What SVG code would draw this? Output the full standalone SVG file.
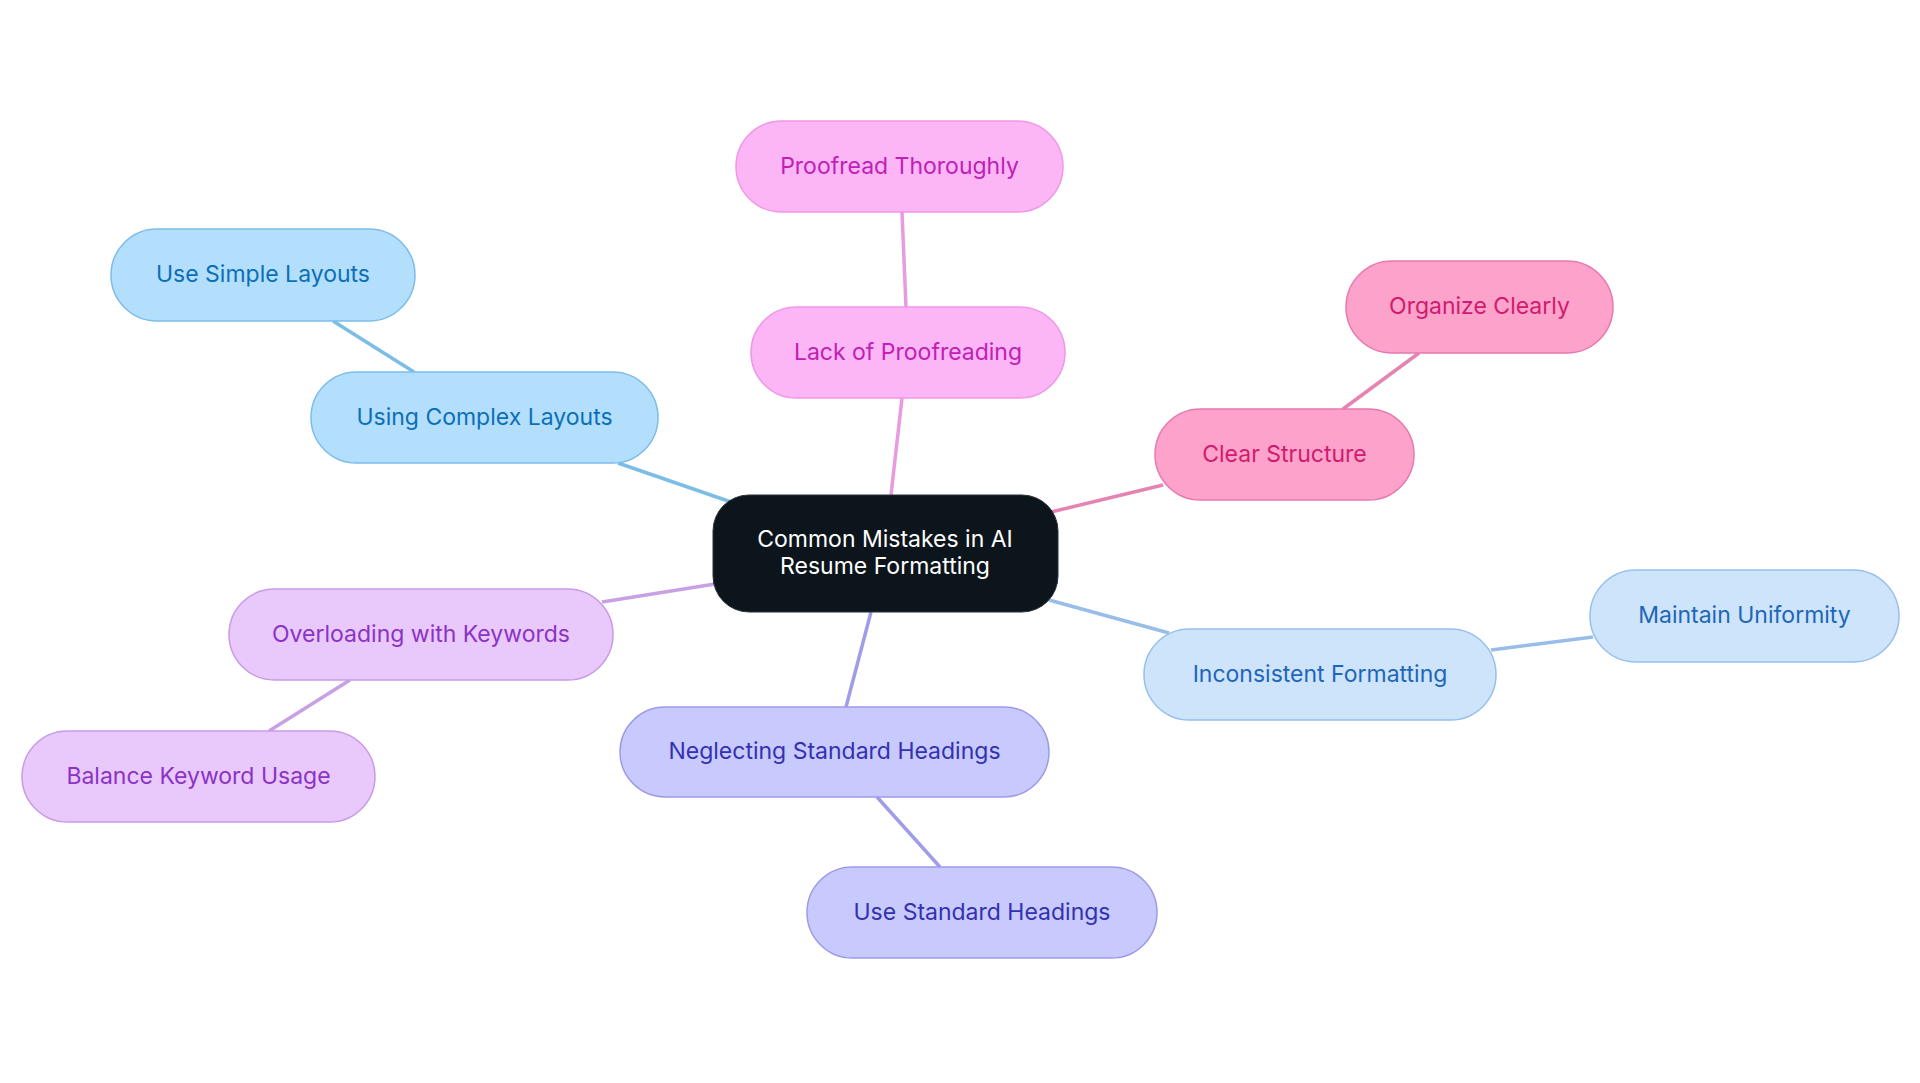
<svg xmlns="http://www.w3.org/2000/svg" width="1920" height="1083" viewBox="0 0 1920 1083">
<style>
text{font-family:Inter,"Noto Sans",sans-serif;font-size:23px;text-anchor:middle;dominant-baseline:central}
.c line{stroke-width:3.5;fill:none}
.b rect{fill:#b3dffc;stroke:#7cbde9;stroke-width:1.5}.b text{fill:#0b6fb8}
.p rect{fill:#fdb6f5;stroke:#f097e6;stroke-width:1.5}.p text{fill:#c020b5}
.r rect{fill:#fda2cb;stroke:#e879ad;stroke-width:1.5}.r text{fill:#d11a6f}
.l rect{fill:#cde4fb;stroke:#97c0ec;stroke-width:1.5}.l text{fill:#1e66b8}
.v rect{fill:#e9c8fb;stroke:#c89ae8;stroke-width:1.5}.v text{fill:#8a33c6}
.i rect{fill:#c8cafd;stroke:#9c9be9;stroke-width:1.5}.i text{fill:#3331b0}
</style>
<rect width="1920" height="1083" fill="#fff"/>
<g class="c" id="connectors">
<line x1="902" y1="212" x2="906" y2="307" stroke="#e89be0"/>
<line x1="902" y1="398" x2="891" y2="495" stroke="#e89be0"/>
<line x1="333" y1="321" x2="414" y2="372" stroke="#7cbde6"/>
<line x1="618" y1="463" x2="731" y2="502" stroke="#7cbde6"/>
<line x1="1419" y1="353" x2="1343" y2="409" stroke="#e584b0"/>
<line x1="1163" y1="485" x2="1051" y2="512" stroke="#e584b0"/>
<line x1="1593" y1="637" x2="1491" y2="650" stroke="#98bde9"/>
<line x1="1169" y1="633" x2="1049" y2="600" stroke="#98bde9"/>
<line x1="602" y1="602" x2="715" y2="584" stroke="#c8a0e4"/>
<line x1="269" y1="731" x2="350" y2="680" stroke="#c8a0e4"/>
<line x1="846" y1="707" x2="871" y2="612" stroke="#a09de8"/>
<line x1="940" y1="867" x2="877" y2="797" stroke="#a09de8"/>
</g>
<g id="center"><rect x="713" y="495" width="345" height="117" rx="36" fill="#0d151c" stroke="#2a3138"/><text x="885" y="539" fill="#fff">Common Mistakes in AI</text><text x="885" y="566" fill="#fff">Resume Formatting</text></g>
<g id="n1" class="p"><rect x="736" y="121" width="327" height="91" rx="45.5"/><text x="899.5" y="166">Proofread Thoroughly</text></g>
<g id="n2" class="p"><rect x="751" y="307" width="314" height="91" rx="45.5"/><text x="908" y="352">Lack of Proofreading</text></g>
<g id="n3" class="b"><rect x="111" y="229" width="304" height="92" rx="46"/><text x="263" y="274">Use Simple Layouts</text></g>
<g id="n4" class="b"><rect x="311" y="372" width="347" height="91" rx="45.5"/><text x="484.5" y="417">Using Complex Layouts</text></g>
<g id="n5" class="r"><rect x="1346" y="261" width="267" height="92" rx="46"/><text x="1479.5" y="306">Organize Clearly</text></g>
<g id="n6" class="r"><rect x="1155" y="409" width="259" height="91" rx="45.5"/><text x="1284.5" y="454">Clear Structure</text></g>
<g id="n7" class="l"><rect x="1590" y="570" width="309" height="92" rx="46"/><text x="1744.5" y="615">Maintain Uniformity</text></g>
<g id="n8" class="l"><rect x="1144" y="629" width="352" height="91" rx="45.5"/><text x="1320" y="674">Inconsistent Formatting</text></g>
<g id="n9" class="v"><rect x="229" y="589" width="384" height="91" rx="45.5"/><text x="421" y="634">Overloading with Keywords</text></g>
<g id="n10" class="v"><rect x="22" y="731" width="353" height="91" rx="45.5"/><text x="198.5" y="776">Balance Keyword Usage</text></g>
<g id="n11" class="i"><rect x="620" y="707" width="429" height="90" rx="45"/><text x="834.5" y="751">Neglecting Standard Headings</text></g>
<g id="n12" class="i"><rect x="807" y="867" width="350" height="91" rx="45.5"/><text x="982" y="912">Use Standard Headings</text></g>
</svg>
